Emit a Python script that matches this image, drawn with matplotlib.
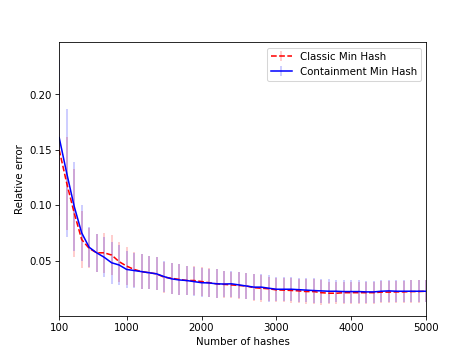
import numpy as np
import matplotlib
matplotlib.use("Agg")
import matplotlib.pyplot as plt

hashes = list(range(100, 5001, 100))

classic_err = [0.150, 0.120, 0.093, 0.069, 0.061, 0.057, 0.057, 0.055, 0.049, 0.045,
               0.042, 0.040, 0.039, 0.038, 0.035, 0.034, 0.033, 0.032, 0.032, 0.031,
               0.030, 0.029, 0.0285, 0.028, 0.0275, 0.027, 0.0255, 0.025, 0.0245, 0.0235,
               0.0233, 0.023, 0.0226, 0.022, 0.022, 0.021, 0.0205, 0.0205, 0.021, 0.021,
               0.021, 0.021, 0.021, 0.0215, 0.0215, 0.0217, 0.0217, 0.022, 0.022, 0.0223]
classic_std = [0.060, 0.042, 0.040, 0.026, 0.018, 0.017, 0.018, 0.018, 0.018, 0.017,
               0.016, 0.016, 0.015, 0.015, 0.014, 0.014, 0.014, 0.013, 0.013, 0.013,
               0.013, 0.013, 0.012, 0.012, 0.012, 0.012, 0.012, 0.012, 0.011, 0.011,
               0.011, 0.011, 0.011, 0.011, 0.011, 0.011, 0.010, 0.010, 0.010, 0.010,
               0.010, 0.010, 0.010, 0.010, 0.010, 0.010, 0.010, 0.010, 0.010, 0.010]

contain_err = [0.161, 0.129, 0.099, 0.075, 0.062, 0.057, 0.053, 0.048, 0.046, 0.042,
               0.041, 0.040, 0.039, 0.038, 0.0355, 0.0335, 0.0325, 0.032, 0.031, 0.030,
               0.0298, 0.029, 0.0288, 0.029, 0.028, 0.027, 0.026, 0.026, 0.025, 0.0241,
               0.0241, 0.0241, 0.0237, 0.0233, 0.0229, 0.0226, 0.0223, 0.0223, 0.022, 0.022,
               0.022, 0.0217, 0.0217, 0.0223, 0.0226, 0.0223, 0.0223, 0.0223, 0.0223, 0.0223]
contain_std = [0.070, 0.058, 0.040, 0.025, 0.018, 0.017, 0.018, 0.019, 0.018, 0.017,
               0.016, 0.016, 0.015, 0.015, 0.014, 0.014, 0.014, 0.013, 0.013, 0.013,
               0.013, 0.013, 0.012, 0.012, 0.012, 0.012, 0.012, 0.012, 0.012, 0.011,
               0.011, 0.011, 0.011, 0.011, 0.011, 0.011, 0.011, 0.010, 0.010, 0.010,
               0.010, 0.010, 0.010, 0.010, 0.010, 0.010, 0.010, 0.010, 0.010, 0.010]

xticks = [100, 1000, 2000, 3000, 4000, 5000]

fig = plt.figure(figsize=(6.4, 4.8), dpi=74)
plt.errorbar(hashes, classic_err, yerr=classic_std, fmt="--", color="red",
             ecolor=(1, 0, 0, 0.25), label="Classic Min Hash")
plt.errorbar(hashes, contain_err, yerr=contain_std, fmt="-", color="blue",
             ecolor=(0, 0, 1, 0.25), label="Containment Min Hash")
plt.xlim(100, 5000)
plt.ylim(0, 0.247)
plt.xticks(xticks)
plt.yticks([0.05, 0.10, 0.15, 0.20])
plt.xlabel("Number of hashes")
plt.ylabel("Relative error")
plt.legend(loc="upper right")
plt.savefig("out.png", dpi=74)
